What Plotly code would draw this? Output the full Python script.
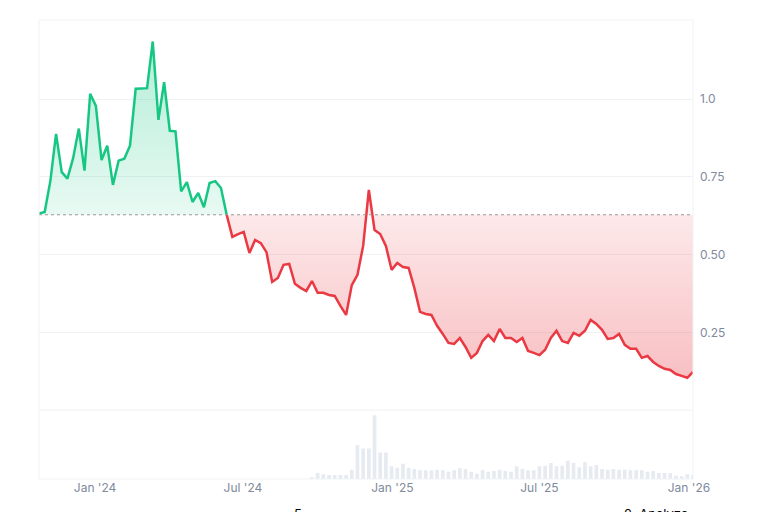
import plotly.graph_objects as go
import pandas as pd

start_date = "2023-10-24"
price_green = [0.632,0.637,0.737,0.888,0.765,0.744,0.810,0.905,0.770,1.017,0.978,0.804,0.850,0.724,
               0.802,0.808,0.850,1.033,1.034,1.035,1.185,0.933,1.054,0.898,0.896,0.703,0.733,0.669,
               0.698,0.652,0.730,0.736,0.714,0.628]
price_red = [0.557,0.566,0.573,0.505,0.547,0.537,0.508,0.412,0.425,0.467,0.470,0.406,0.393,0.383,
             0.415,0.377,0.377,0.370,0.367,0.335,0.306,0.402,0.435,0.528,0.708,0.579,0.566,0.528,
             0.451,0.473,0.460,0.457,0.393,0.316,0.309,0.306,0.271,0.245,0.216,0.213,0.232,0.203,
             0.168,0.184,0.222,0.242,0.222,0.261,0.232,0.232,0.219,0.232,0.190,0.184,0.177,0.194,
             0.232,0.255,0.222,0.216,0.248,0.239,0.255,0.290,0.277,0.258,0.229,0.232,0.245,0.210,
             0.197,0.197,0.168,0.174,0.155,0.142,0.133,0.129,0.116,0.110,0.104,0.123]
volume_start_index = 48
volume = [3,18,14,12,12,12,12,28,102,92,92,192,80,80,38,34,46,34,30,26,26,26,28,26,22,26,32,30,
          22,16,26,22,24,28,24,22,38,30,26,26,38,40,48,38,40,55,48,35,50,38,42,30,28,30,28,28,
          26,26,26,22,24,18,18,18,10,8,14,12]
baseline = 0.628
tick_vals = [0.25, 0.5, 0.75, 1.0]
tick_text = ["0.25", "0.50", "0.75", "1.0"]
x_ticks = ["2024-01-01", "2024-07-01", "2025-01-01", "2025-07-01", "2026-01-01"]
x_tick_text = ["Jan '24", "Jul '24", "Jan '25", "Jul '25", "Jan '26"]

prices = price_green + price_red
dates = pd.date_range(start_date, periods=len(prices), freq="7D")
ng = len(price_green)
dg = dates[:ng]
dr = dates[ng-1:]
pr = [price_green[-1]] + price_red

fig = go.Figure()
fig.add_trace(go.Scatter(x=dg, y=[baseline]*len(dg), mode="lines", line=dict(width=0), hoverinfo="skip", showlegend=False))
fig.add_trace(go.Scatter(x=dg, y=price_green, mode="lines", line=dict(color="#16c784", width=2.5), fill="tonexty",
                         fillgradient=dict(type="vertical", colorscale=[[0, "rgba(22,199,132,0.10)"], [1, "rgba(22,199,132,0.32)"]]),
                         showlegend=False))
fig.add_trace(go.Scatter(x=dr, y=[baseline]*len(dr), mode="lines", line=dict(width=0), hoverinfo="skip", showlegend=False))
fig.add_trace(go.Scatter(x=dr, y=pr, mode="lines", line=dict(color="#ea3943", width=2.5), fill="tonexty",
                         fillgradient=dict(type="vertical", colorscale=[[0, "rgba(234,57,67,0.32)"], [1, "rgba(234,57,67,0.08)"]]),
                         showlegend=False))
fig.add_trace(go.Scatter(x=[dates[0], dates[-1]], y=[baseline, baseline], mode="lines",
                         line=dict(color="#999999", width=1, dash="dot"), showlegend=False))
fig.add_trace(go.Bar(x=dates[volume_start_index:volume_start_index+len(volume)], y=volume, yaxis="y2",
                     marker=dict(color="#e6ebf1", line=dict(width=0)), showlegend=False))

fig.update_layout(
    width=768, height=512, margin=dict(l=31, r=83, t=12, b=41, autoexpand=False),
    plot_bgcolor="white", paper_bgcolor="white", bargap=0.35,
    font=dict(family="Inter, Roboto, sans-serif", color="#808a9d", size=12),
    xaxis=dict(range=[dates[0], dates[-1]], tickvals=x_ticks, ticktext=x_tick_text, showgrid=False,
               showline=False, zeroline=False, ticks="", anchor="y2", automargin=False),
    yaxis=dict(domain=[0.15, 1], range=[0, 1.254], side="right", tickvals=tick_vals, ticktext=tick_text,
               gridcolor="#eff2f5", zeroline=False, showline=False, ticklabelstandoff=6, automargin=False),
    yaxis2=dict(domain=[0, 0.15], range=[0, 207], showticklabels=False, showgrid=False, zeroline=False),
    shapes=[
        dict(type="line", xref="paper", yref="paper", x0=0, x1=1, y0=0.15, y1=0.15, line=dict(color="#eff2f5", width=1)),
        dict(type="line", xref="paper", yref="paper", x0=0, x1=1, y0=1, y1=1, line=dict(color="#eff2f5", width=1)),
        dict(type="line", xref="paper", yref="paper", x0=0, x1=1, y0=0, y1=0, line=dict(color="#eff2f5", width=1)),
        dict(type="line", xref="paper", yref="paper", x0=0, x1=0, y0=0, y1=1, line=dict(color="#eff2f5", width=1)),
        dict(type="line", xref="paper", yref="paper", x0=1, x1=1, y0=0, y1=1, line=dict(color="#eff2f5", width=1)),
    ],
    annotations=[
        dict(text="5", xref="paper", yref="paper", x=(290-31)/654, y=-0.077, showarrow=False,
             font=dict(color="black", size=13), xanchor="center", yanchor="middle"),
        dict(text="2  Analyze", xref="paper", yref="paper", x=(648-31)/654, y=-0.077, showarrow=False,
             font=dict(color="black", size=13), xanchor="center", yanchor="middle"),
    ],
)
fig.write_html("out.html")
